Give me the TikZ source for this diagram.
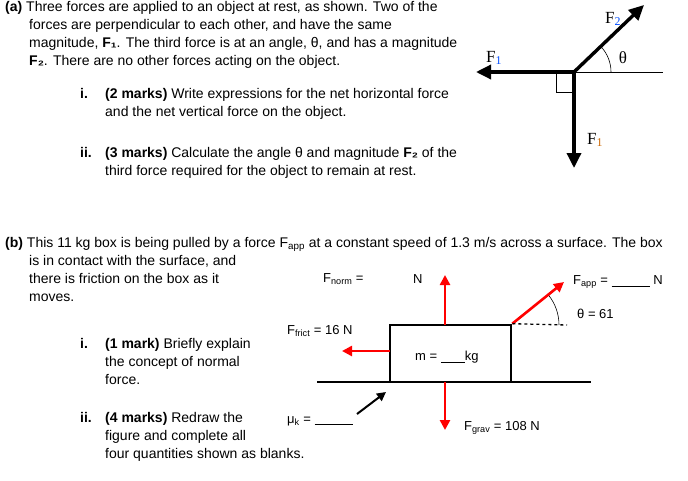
\documentclass[tikz,border=0pt]{standalone}
\usepackage{fontspec}
\setmainfont{Liberation Sans}
\newfontfamily\serf{Liberation Serif}
\usetikzlibrary{arrows.meta}
\begin{document}
\begin{tikzpicture}[x=1pt,y=-1pt,
  txt/.style={anchor=west,inner sep=0pt,font=\fontsize{14}{18}\selectfont,align=left},
  lab/.style={inner sep=0pt,font=\serf\fontsize{17}{19}\selectfont},
  blk/.style={line width=3.4pt,-{Triangle[length=15pt,width=14pt]}},
  red/.style={draw=red,line width=2.6pt,-{Triangle[length=10pt,width=10pt]}},
  sm/.style={inner sep=0pt,anchor=west,font=\fontsize{13}{15}\selectfont}]
\useasboundingbox (0,0) rectangle (688,480);
% part a text
\node[txt,anchor=north west] (ta) at (5,1) {\textbf{(a)} Three forces are applied to an object at rest, as shown. Two of the\\
\hspace{24pt}forces are perpendicular to each other, and have the same\\
\hspace{24pt}magnitude, \textbf{F₁}. The third force is at an angle, θ, and has a magnitude\\
\hspace{24pt}\textbf{F₂}. There are no other forces acting on the object.};
\node[txt,anchor=north west] (ti) at (80,88) {\textbf{i.}};
\node[txt,anchor=north west] (tit) at (105,88) {\textbf{(2 marks)} Write expressions for the net horizontal force\\and the net vertical force on the object.};
\node[txt,anchor=north west] (tii) at (80,147) {\textbf{ii.}};
\node[txt,anchor=north west] (tiit) at (105,147) {\textbf{(3 marks)} Calculate the angle θ and magnitude \textbf{F₂} of the\\third force required for the object to remain at rest.};
% diagram a
\coordinate (o) at (574,72);
\coordinate (l) at (476,72);
\coordinate (d) at (574,168);
\coordinate (u) at (644,5);
\coordinate (h) at (663,72);
\draw[line width=0.7pt] (o) -- (h);
\draw[line width=0.6pt] (556,72) -- (556,92) -- (574,92);
\draw[line width=0.6pt] (611,72) arc[start angle=0,end angle=-43,radius=37];
\draw[blk] (o) -- (l);
\draw[blk] (o) -- (d);
\draw[blk] (o) -- (u);
\node[lab] (f1a) at (494,58) {F\textsubscript{\color{blue!70!cyan}1}};
\node[lab] (f2) at (613,19) {F\textsubscript{\color{blue!70!cyan}2}};
\node[lab] (th) at (623,58) {θ};
\node[lab] (f1b) at (595,140) {F\textsubscript{\color{orange!80!black}1}};
% part b text
\node[txt,anchor=north west] (tb) at (5,237) {\textbf{(b)} This 11 kg box is being pulled by a force F\textsubscript{app} at a constant speed of 1.3 m/s across a surface. The box\\
\hspace{24pt}is in contact with the surface, and\\
\hspace{24pt}there is friction on the box as it\\
\hspace{24pt}moves.};
\node[txt,anchor=north west] (bi) at (80,338) {\textbf{i.}};
\node[txt,anchor=north west] (bit) at (105,338) {\textbf{(1 mark)} Briefly explain\\the concept of normal\\force.};
\node[txt,anchor=north west] (bii) at (80,412) {\textbf{ii.}};
\node[txt,anchor=north west] (biit) at (105,412) {\textbf{(4 marks)} Redraw the\\figure and complete all\\four quantities shown as blanks.};
% diagram b
\draw[line width=2.6pt] (317,382) -- (591,382);
\node[draw,line width=2.6pt,minimum width=121pt,minimum height=57pt,inner sep=0pt] (box) at (450.5,353.5) {};
\node[sm] (m) at (415,357) {m = \underline{\hspace{24pt}}kg};
\draw[red] (445,325) -- (445,275);
\draw[red] (445,382) -- (445,430);
\draw[red] (390,351) -- (342,351);
\draw[red] (box.north east) -- (564,282);
\draw[dashed,line width=1.3pt] (box.north east) -- (567,325);
\draw[line width=0.6pt] (511,325) ++(-38:48) arc[start angle=-38,end angle=0,radius=48];
\draw[line width=2pt,-{Triangle[length=9pt,width=9pt]}] (357,414) -- (386,392);
\node[sm] (fn) at (323,279) {F\textsubscript{norm} =};
\node[sm] (n) at (413,279) {N};
\node[sm] (fa) at (573,282) {F\textsubscript{app} = \underline{\hspace{38pt}} N};
\node[sm] (thb) at (577,314) {θ = 61};
\node[sm] (ff) at (287,331) {F\textsubscript{frict} = 16 N};
\node[sm] (mu) at (287,421) {μ\textsubscript{k} = \underline{\hspace{38pt}}};
\node[sm] (fg) at (464,428) {F\textsubscript{grav} = 108 N};
\end{tikzpicture}
\end{document}
